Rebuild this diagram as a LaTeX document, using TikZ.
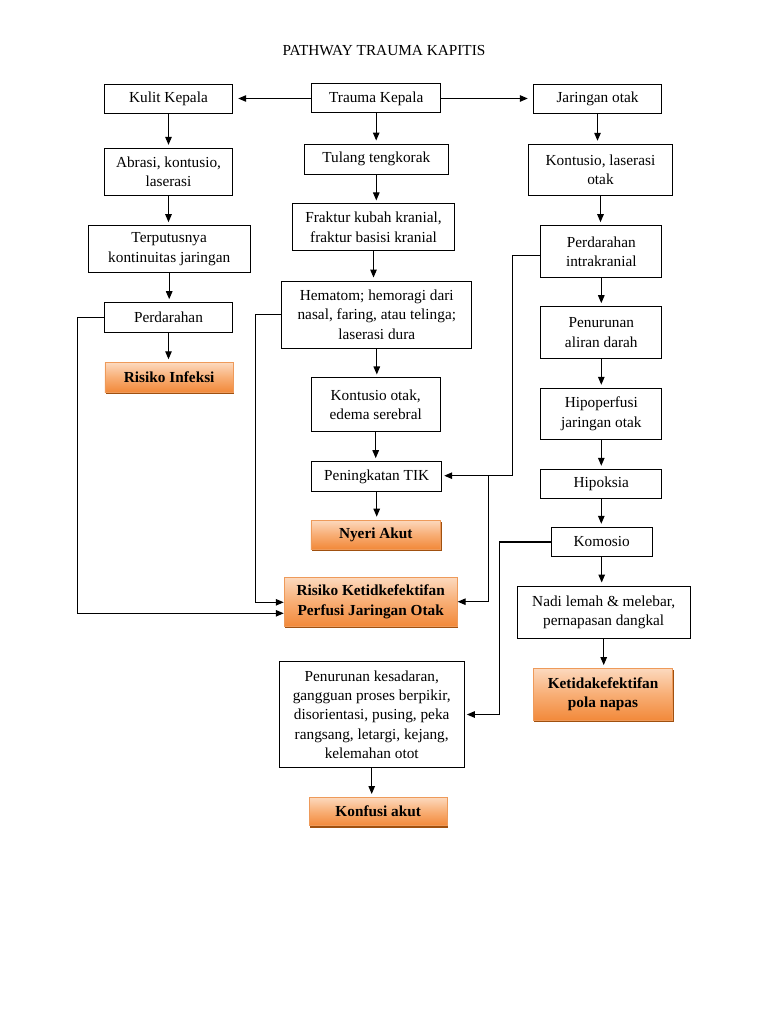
\documentclass[tikz,border=0pt]{standalone}
\usepackage{fontspec}
\setmainfont{Liberation Serif}
\usetikzlibrary{arrows.meta,shadows}
\definecolor{oTop}{HTML}{FCD9BE}
\definecolor{oMid}{HTML}{F8AE75}
\definecolor{oBot}{HTML}{F2893A}
\definecolor{oBorder}{HTML}{EE9A5A}
\definecolor{oShadow}{HTML}{A0500F}
\tikzset{
  box/.style={draw=black, line width=1pt, align=center, inner sep=0pt, fill=white,
    font=\fontsize{15.3}{19.3}\selectfont},
  diag/.style={draw=oBorder, line width=0.6pt, align=center, inner sep=0pt,
    top color=oTop, bottom color=oBot, middle color=oMid,
    font=\fontsize{15.3}{19.3}\selectfont\bfseries,
    drop shadow={shadow xshift=1pt, shadow yshift=-2pt, fill=oShadow, opacity=1}},
  arr/.style={-{Triangle[length=8pt,width=6.5pt]}, line width=1.1pt},
}
\begin{document}
\begin{tikzpicture}[x=1pt,y=-1pt]
\useasboundingbox[fill=white] (0,0) rectangle (768,1024);

\node[font=\fontsize{15.3}{19.3}\selectfont] (title) at (384,51) {PATHWAY TRAUMA KAPITIS};

% left column
\node[box, minimum width=128.4pt, minimum height=29.3pt] (kulit) at (168.5,98.7) {Kulit Kepala};
\node[box, minimum width=128.4pt, minimum height=46.7pt] (abrasi) at (168.5,171.7) {Abrasi, kontusio,\\laserasi};
\node[box, minimum width=161.7pt, minimum height=47pt] (terput) at (169.2,249.2) {Terputusnya\\kontinuitas jaringan};
\node[box, minimum width=128.4pt, minimum height=29.6pt] (perd1) at (168.5,317.5) {Perdarahan};
\node[diag, minimum width=128.5pt, minimum height=29.5pt] (infeksi) at (169.2,377.3) {Risiko Infeksi};

% middle column
\node[box, minimum width=129pt, minimum height=29pt] (trauma) at (376.2,98.5) {Trauma Kepala};
\node[box, minimum width=144pt, minimum height=30.3pt] (tulang) at (376.3,159.2) {Tulang tengkorak};
\node[box, minimum width=161.6pt, minimum height=46.7pt] (fraktur) at (373.5,227.3) {Fraktur kubah kranial,\\fraktur basisi kranial};
\node[box, minimum width=189.7pt, minimum height=67.3pt] (hematom) at (376.8,314.7) {Hematom; hemoragi dari\\nasal, faring, atau telinga;\\laserasi dura};
\node[box, minimum width=129.3pt, minimum height=53.7pt] (kontotak) at (375.7,404.8) {Kontusio otak,\\edema serebral};
\node[box, minimum width=130pt, minimum height=30pt] (tik) at (376.7,476.7) {Peningkatan TIK};
\node[diag, minimum width=129.7pt, minimum height=29pt] (nyeri) at (375.8,534.5) {Nyeri Akut};
\node[diag, minimum width=173.3pt, minimum height=48.7pt] (risikoKP) at (370.7,601.7) {Risiko Ketidkefektifan\\Perfusi Jaringan Otak};
\node[box, minimum width=185.3pt, minimum height=105.6pt] (penkes) at (371.7,714.5) {Penurunan kesadaran,\\gangguan proses berpikir,\\disorientasi, pusing, peka\\rangsang, letargi, kejang,\\kelemahan otot};
\node[diag, minimum width=138.3pt, minimum height=28.4pt] (konfusi) at (378.2,811.5) {Konfusi akut};

% right column
\node[box, minimum width=128.4pt, minimum height=29.3pt] (jaringan) at (597.5,98.7) {Jaringan otak};
\node[box, minimum width=144.4pt, minimum height=51.4pt] (konlas) at (600.5,170) {Kontusio, laserasi\\otak};
\node[box, minimum width=120.7pt, minimum height=51.6pt] (perdin) at (601.3,251.5) {Perdarahan\\intrakranial};
\node[box, minimum width=120.7pt, minimum height=51.6pt] (penal) at (601.3,332.5) {Penurunan\\aliran darah};
\node[box, minimum width=120.7pt, minimum height=51pt] (hipoper) at (601.3,413.8) {Hipoperfusi\\jaringan otak};
\node[box, minimum width=120.7pt, minimum height=29pt] (hipoksia) at (601.3,483.8) {Hipoksia};
\node[box, minimum width=101.3pt, minimum height=29.4pt] (komosio) at (601.7,542) {Komosio};
\node[box, minimum width=172.7pt, minimum height=52.3pt] (nadi) at (603.7,612.2) {Nadi lemah \& melebar,\\pernapasan dangkal};
\node[diag, minimum width=139.4pt, minimum height=52pt] (pola) at (603,694.4) {Ketidakefektifan\\pola napas};

% top row arrows
\draw[arr, shorten >=5pt] (trauma.west) -- (trauma.west -| kulit.east);
\draw[arr, shorten >=5pt] (trauma.east) -- (trauma.east -| jaringan.west);

% vertical chains
\foreach \a/\b in {kulit/abrasi, abrasi/terput, terput/perd1, perd1/infeksi,
                   trauma/tulang, tulang/fraktur, fraktur/hematom, hematom/kontotak,
                   kontotak/tik, tik/nyeri, penkes/konfusi,
                   jaringan/konlas, konlas/perdin, perdin/penal, penal/hipoper,
                   hipoper/hipoksia, hipoksia/komosio, komosio/nadi, nadi/pola}
  \draw[arr, shorten >=3pt] (\a.south) -- (\a.south |- \b.north);

% side connectors
\coordinate (l1) at (77.3,613.3);
\draw[arr] (perd1.west) -| (l1) -- (l1 -| risikoKP.west);
\coordinate (l2) at (255.7,602.3);
\draw[arr] (hematom.west) -| (l2) -- (l2 -| risikoKP.west);
\coordinate (r1) at (512.3,475.7);
\draw[arr, shorten >=2pt] ([yshift=-4pt]perdin.west) -| (r1) -- (r1 -| tik.east);
\coordinate (r2) at (488.3,475.7);
\draw[arr] (r2) |- (risikoKP.east);
\coordinate (r3) at (499.3,714.5);
\draw[arr, shorten >=2pt] (komosio.west) -| (r3) -- (penkes.east);
\end{tikzpicture}
\end{document}
